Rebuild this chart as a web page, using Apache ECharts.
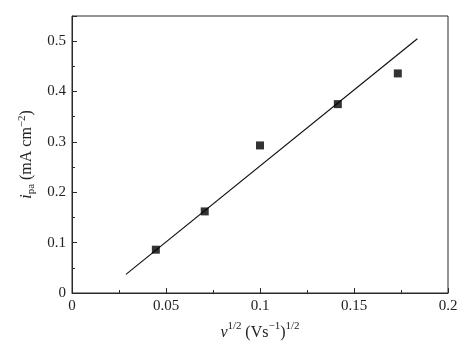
<!DOCTYPE html>
<html>
<head>
<meta charset="utf-8">
<script src="https://cdn.jsdelivr.net/npm/echarts@6/dist/echarts.min.js"></script>
<style>html,body{margin:0;padding:0;background:#fff}#c{width:474px;height:352px}</style>
</head>
<body>
<div id="c"></div>
<script>
// Measured points
var pointX = [0.0446, 0.0706, 0.1000, 0.1414, 0.1733];
var pointY = [0.086, 0.162, 0.293, 0.375, 0.436];
// Linear fit line endpoints
var fitX = [0.0287, 0.1837];
var fitY = [0.037, 0.505];
var xTicks = [0, 0.05, 0.1, 0.15, 0.2];
var yTicks = [0, 0.1, 0.2, 0.3, 0.4, 0.5];

var chart = echarts.init(document.getElementById('c'));
var font = 'Liberation Serif';
var axisColor = '#2a2a2a';
chart.setOption({
  animation: false,
  backgroundColor: '#fff',
  grid: {left: 72, right: 26, top: 16, bottom: 59, show: true, borderColor: axisColor, borderWidth: 1},
  xAxis: {
    type: 'value', min: 0, max: 0.2, interval: 0.05,
    axisLine: {show: true, onZero: false, lineStyle: {color: axisColor, width: 1}},
    axisTick: {show: true, inside: true, length: 5, lineStyle: {color: axisColor}},
    minorTick: {show: true, splitNumber: 2, length: 3, lineStyle: {color: axisColor}},
    splitLine: {show: false},
    axisLabel: {color: '#222', fontFamily: font, fontSize: 15, margin: 6,
      formatter: function (v) { var s = xTicks.filter(function (t) { return Math.abs(t - v) < 1e-9; }); return s.length ? String(s[0]) : ''; }},
    name: '{it|ν}{sup|1/2} {n|(Vs}{sup|−1}{n|)}{sup|1/2}',
    nameLocation: 'middle', nameGap: 28,
    nameTextStyle: {
      fontFamily: font, fontSize: 15, color: '#222',
      rich: {
        it: {fontFamily: font, fontSize: 16, fontStyle: 'italic', color: '#222', lineHeight: 20, verticalAlign: 'bottom'},
        n: {fontFamily: font, fontSize: 16, color: '#222', lineHeight: 20, verticalAlign: 'bottom'},
        sup: {fontFamily: font, fontSize: 11, color: '#222', lineHeight: 12, verticalAlign: 'top'}
      }
    }
  },
  yAxis: {
    type: 'value', min: 0, max: 0.55, interval: 0.1,
    axisLine: {show: true, onZero: false, lineStyle: {color: axisColor, width: 1}},
    axisTick: {show: true, inside: true, length: 5, lineStyle: {color: axisColor}},
    minorTick: {show: true, splitNumber: 2, length: 3, lineStyle: {color: axisColor}},
    splitLine: {show: false},
    axisLabel: {color: '#222', fontFamily: font, fontSize: 15, margin: 6,
      formatter: function (v) { var s = yTicks.filter(function (t) { return Math.abs(t - v) < 1e-9; }); return s.length ? String(s[0]) : ''; }},
    name: '{it|i}{sub|pa} {n|(mA cm}{sup|−2}{n|)}',
    nameLocation: 'middle', nameGap: 34, nameRotate: 90,
    nameTextStyle: {
      fontFamily: font, fontSize: 15, color: '#222',
      rich: {
        it: {fontFamily: font, fontSize: 17, fontStyle: 'italic', color: '#222', lineHeight: 20},
        n: {fontFamily: font, fontSize: 16, color: '#222', lineHeight: 20},
        sup: {fontFamily: font, fontSize: 11, color: '#222', lineHeight: 12, verticalAlign: 'top'},
        sub: {fontFamily: font, fontSize: 11, color: '#222', lineHeight: 12, verticalAlign: 'bottom'}
      }
    }
  },
  series: [
    {
      type: 'line', data: fitX.map(function (x, i) { return [x, fitY[i]]; }),
      showSymbol: false, symbol: 'none', lineStyle: {color: '#111', width: 1.2}, z: 2
    },
    {
      type: 'scatter', data: pointX.map(function (x, i) { return [x, pointY[i]]; }),
      symbol: 'rect', symbolSize: 8, itemStyle: {color: '#000'}, z: 3
    }
  ]
});
</script>
</body>
</html>
